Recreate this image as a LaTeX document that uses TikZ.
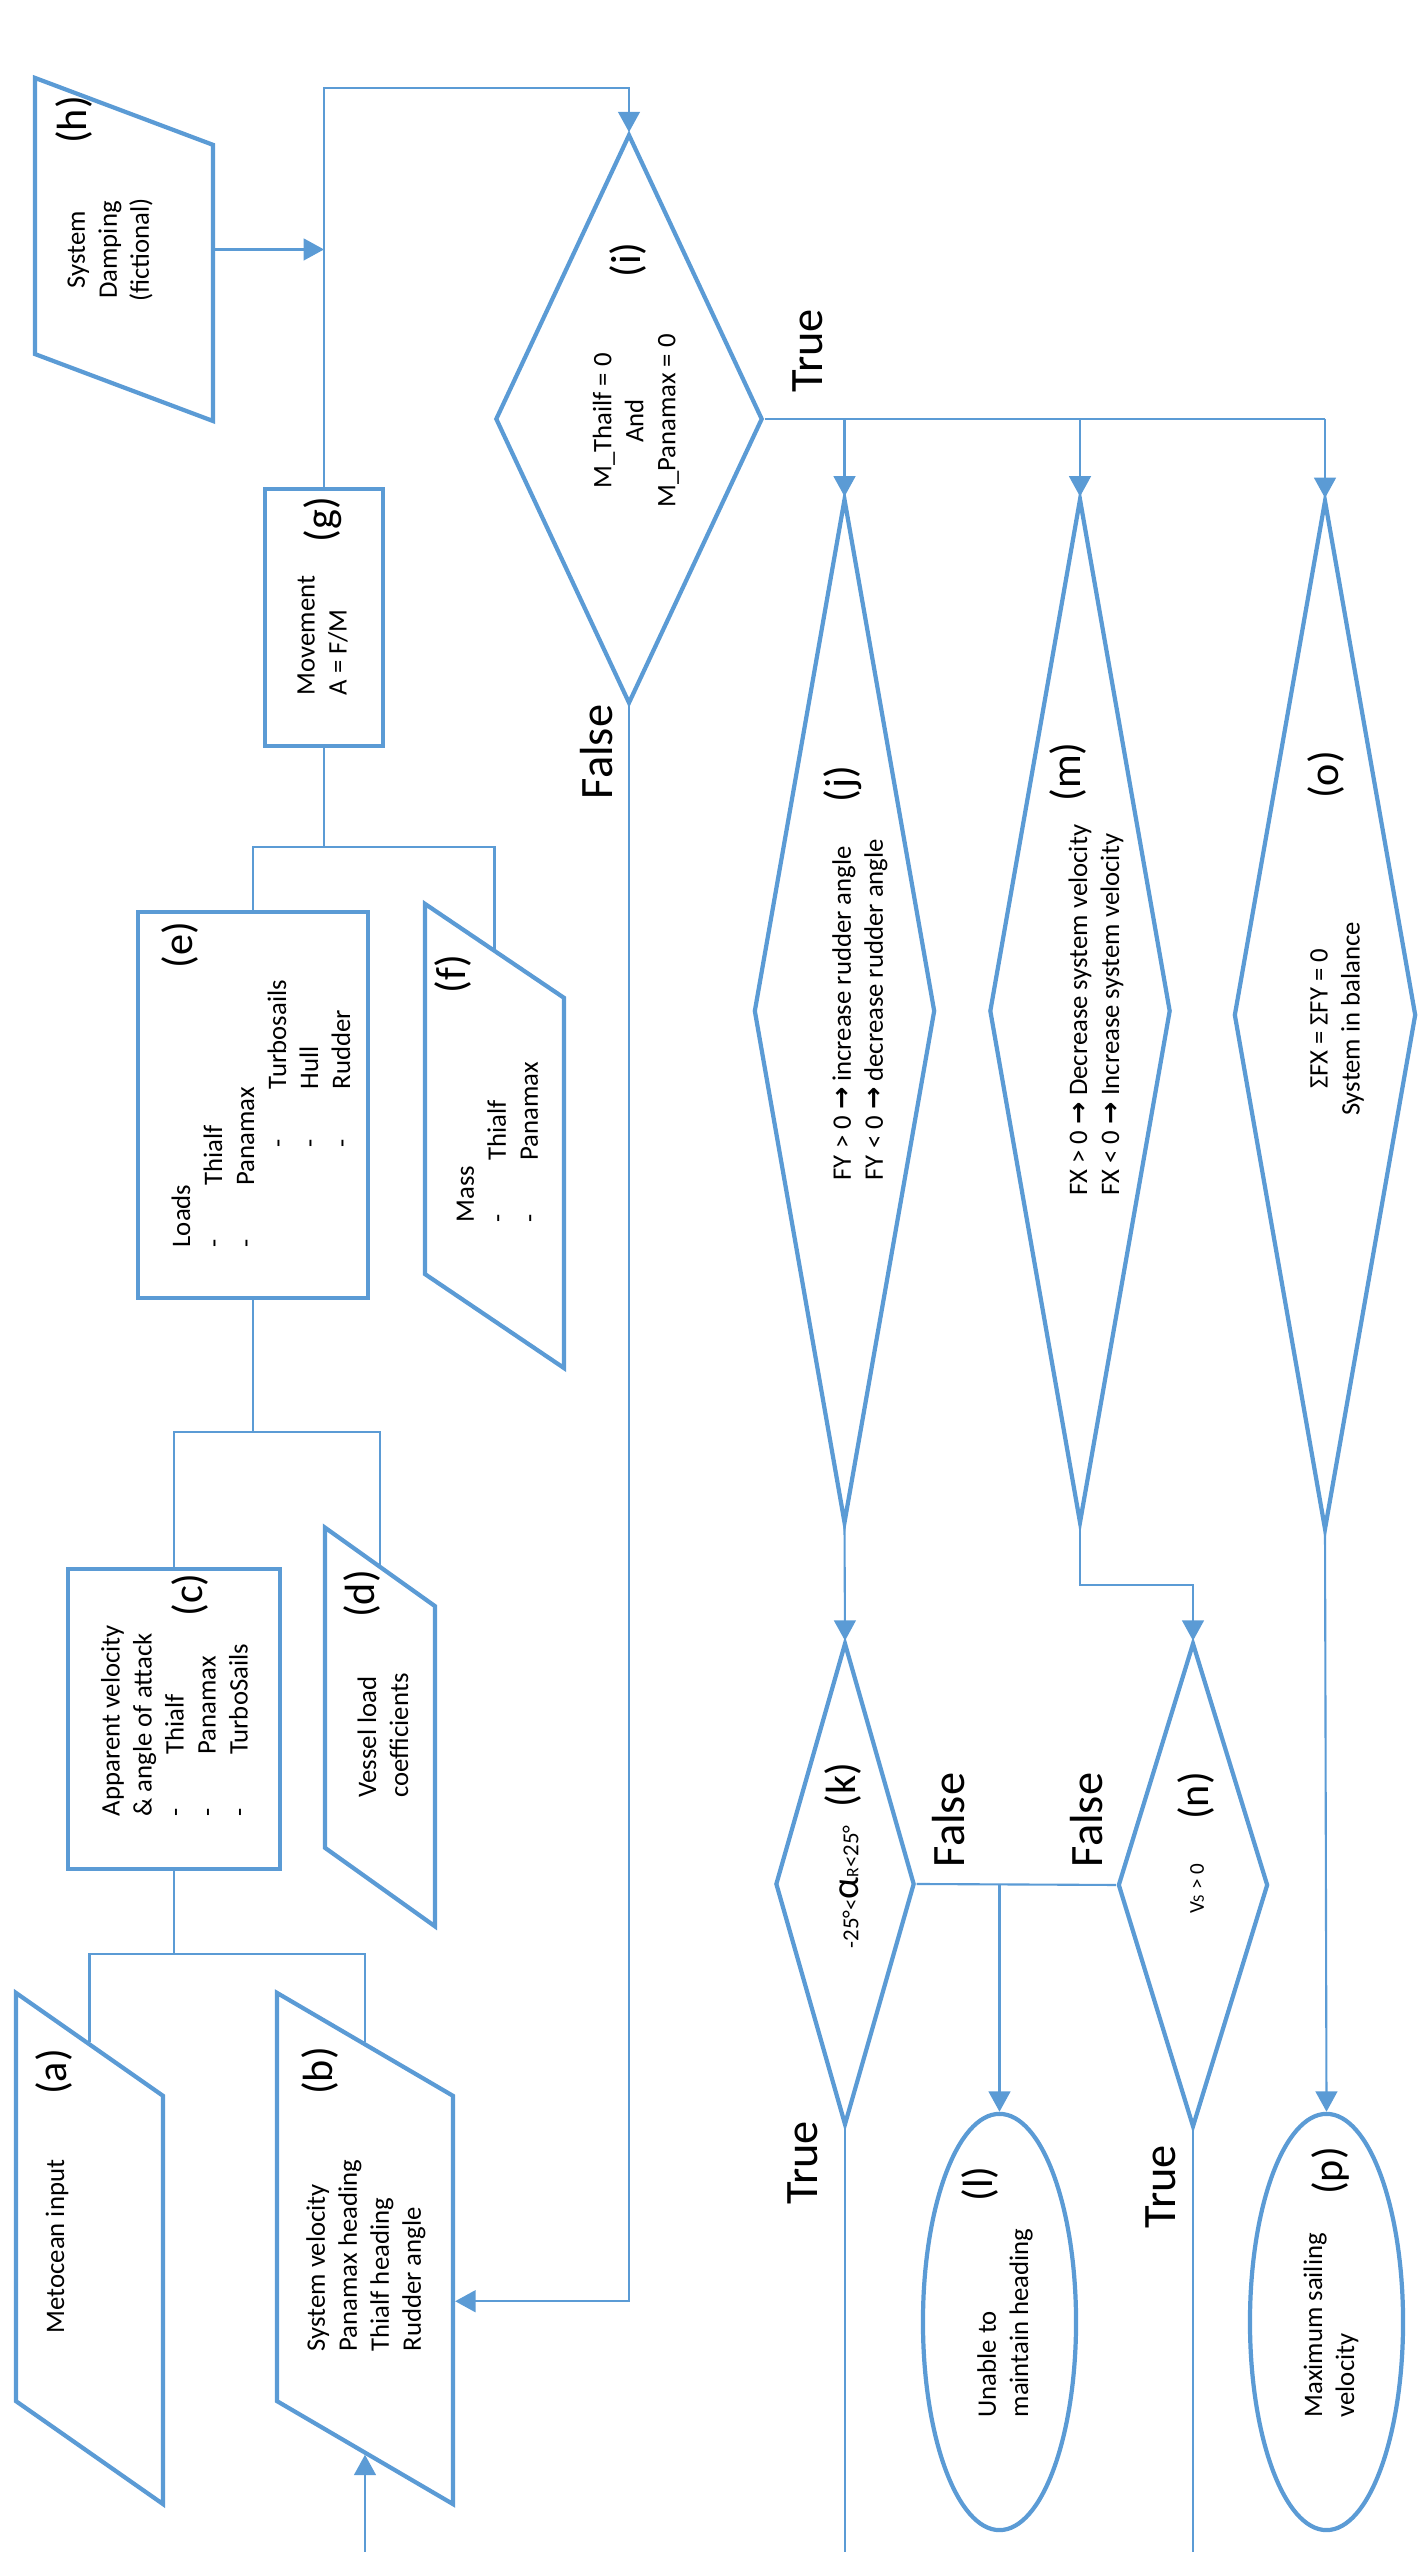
\documentclass[tikz,border=0pt]{standalone}
\usepackage{fontspec}
\setmainfont{Carlito}
\newfontfamily\arrowfont{DejaVu Sans}
\usepackage{xcolor}
\usetikzlibrary{shapes.geometric, arrows.meta}
\definecolor{flowblue}{RGB}{91,155,213}
\newcommand{\toarrow}{{\arrowfont\bfseries →}}
\newcommand{\dashitem}[1]{\makebox[17.5pt][l]{-}#1}
\newcommand{\subdash}[1]{\hspace*{28.5pt}\makebox[16.5pt][l]{-}#1}

\begin{document}
\begin{tikzpicture}[x=0.01cm, y=-0.01cm, rotate=90, transform shape]
\tikzstyle{shapeline}=[draw=flowblue, line width=1.2pt, inner sep=0pt]
\tikzstyle{box}=[shapeline, rectangle]
\tikzstyle{inout}=[shapeline, rectangle]
\tikzstyle{decision}=[shapeline, diamond]
\tikzstyle{terminal}=[shapeline, ellipse]
\tikzstyle{link}=[draw=flowblue, line width=0.6pt]
\tikzstyle{flowarrow}=[link, -{Triangle[length=5.8pt, width=6.2pt]}]
\tikzstyle{txt}=[inner sep=0pt, align=left, font=\fontsize{7.6}{9.1}\selectfont]
\tikzstyle{tag}=[inner sep=0pt, font=\fontsize{12}{12}\selectfont]
\tikzstyle{branch}=[inner sep=0pt, font=\fontsize{13.2}{14}\selectfont]

\useasboundingbox (0,0) rectangle (2552,1422);

% shapes
\node[inout, xslant=0.70, minimum width=4.08cm, minimum height=1.47cm] (a) at (303.5,89.5) {};
\node[inout, xslant=0.585, minimum width=4.08cm, minimum height=1.76cm] (b) at (303.5,365) {};
\node[box, minimum width=3cm, minimum height=2.12cm] (c) at (833,174) {};
\node[inout, xslant=0.714, minimum width=3.2cm, minimum height=1.1cm] (d) at (825,380) {};
\node[box, minimum width=3.86cm, minimum height=2.3cm] (e) at (1447,253) {};
\node[inout, xslant=0.676, minimum width=3.7cm, minimum height=1.39cm] (f) at (1416,494.5) {};
\node[box, minimum width=2.57cm, minimum height=1.18cm] (g) at (1934.5,324) {};
\node[inout, xslant=0.376, minimum width=2.76cm, minimum height=1.78cm] (h) at (2302.5,124) {};
\node[decision, minimum width=5.69cm, minimum height=2.67cm] (i) at (2133,629) {};
\node[decision, minimum width=10.24cm, minimum height=1.81cm] (j) at (1541,844.5) {};
\node[decision, minimum width=10.24cm, minimum height=1.81cm] (m) at (1541,1080) {};
\node[decision, minimum width=10.29cm, minimum height=1.82cm] (o) at (1537,1325) {};
\node[decision, minimum width=4.82cm, minimum height=1.39cm] (k) at (668,845) {};
\node[decision, minimum width=4.84cm, minimum height=1.5cm] (n) at (667,1193) {};
\node[terminal, minimum width=4.16cm, minimum height=1.53cm] (l) at (230,999.5) {};
\node[terminal, minimum width=4.16cm, minimum height=1.53cm] (p) at (230,1326.5) {};

% texts
\node[txt, anchor=west] (ta) at (218,57) {Metocean input};
\node[txt, anchor=west] (tb) at (200,366) {System velocity\\Panamax heading\\Thialf heading\\Rudder angle};
\node[txt, anchor=west] (tc) at (735,174.5) {Apparent velocity\\\& angle of attack\\\dashitem{Thialf}\\\dashitem{Panamax}\\\dashitem{TurboSails}};
\node[txt, anchor=west] (td) at (754,383) {Vessel load\\coefficients};
\node[txt, anchor=west] (te) at (1304,261) {Loads\\\dashitem{Thialf}\\\dashitem{Panamax}\\\subdash{Turbosails}\\\subdash{Hull}\\\subdash{Rudder}};
\node[txt, anchor=west] (tf) at (1329,497.5) {Mass\\\dashitem{Thialf}\\\dashitem{Panamax}};
\node[txt, anchor=west] (tg) at (1856,322.5) {Movement\\A = F/M};
\node[txt, align=center] (th) at (2302,110) {System\\Damping\\(fictional)};
\node[txt, align=center] (ti) at (2131,636) {M\_Thailf = 0\\And\\M\_Panamax = 0};
\node[txt, anchor=west] (tj) at (1371,860) {FY > 0 \toarrow{} increase rudder angle\\FY < 0 \toarrow{} decrease rudder angle};
\node[txt, anchor=west] (tm) at (1356,1096) {FX > 0 \toarrow{} Decrease system velocity\\FX < 0 \toarrow{} Increase system velocity};
\node[txt, align=center] (to) at (1533,1337) {ΣFX = ΣFY = 0\\System in balance};
\node[txt, font=\fontsize{6.5}{7}\selectfont] (tk) at (665,849) {-25°<{\fontsize{11}{11}\selectfont α}{\fontsize{5}{5}\selectfont R}<25°};
\node[txt, font=\fontsize{6}{7}\selectfont] (tn) at (663,1197) {V{\fontsize{4.5}{5}\selectfont S} > 0};
\node[txt, anchor=west] (tl) at (134,1005) {Unable to\\maintain heading};
\node[txt, anchor=west] (tp) at (134,1331) {Maximum sailing\\velocity};

% letters
\node[tag] (la) at (480,54) {(a)};
\node[tag] (lb) at (481,320) {(b)};
\node[tag] (lc) at (957,190) {(c)};
\node[tag] (ld) at (958,362) {(d)};
\node[tag] (le) at (1607,180) {(e)};
\node[tag] (lf) at (1578,453) {(f)};
\node[tag] (lg) at (2032,323) {(g)};
\node[tag] (lh) at (2432,74) {(h)};
\node[tag] (li) at (2292,628) {(i)};
\node[tag] (lj) at (1768,843) {(j)};
\node[tag] (lm) at (1780,1068) {(m)};
\node[tag] (lo) at (1777,1326) {(o)};
\node[tag] (lk) at (767,843) {(k)};
\node[tag] (ln) at (756,1196) {(n)};
\node[tag] (ll) at (368,980) {(l)};
\node[tag] (lp) at (381,1330) {(p)};

% branch labels
\node[branch] (itrue) at (2201,808) {True};
\node[branch] (ifalse) at (1800,597) {False};
\node[branch] (kfalse) at (732,949) {False};
\node[branch] (nfalse) at (732,1087) {False};
\node[branch] (ktrue) at (389,803) {True};
\node[branch] (ntrue) at (365,1161) {True};

% joints
\coordinate (jab) at (598,174);
\coordinate (jcd) at (1120,253);
\coordinate (jef) at (1705,324);
\coordinate (gi) at (2464,324);
\coordinate (mn) at (967,1080);
\coordinate (bin) at (0,365);
\coordinate (kout) at (0,845);
\coordinate (nout) at (0,1193);

% connectors
\draw[link] (a.east) -| (jab) |- (b.east);
\draw[link] (c.west) -- (jab);
\draw[link] (c.east) -| (jcd) |- (d.east);
\draw[link] (e.west) -- (jcd);
\draw[link] (e.east) -| (jef) |- (f.east);
\draw[link] (g.west) -- (jef);
\draw[flowarrow] (g.east) -- (gi) |- (i.east);
\draw[flowarrow] (h.south -| h.center) -- (h.center |- gi);
\draw[flowarrow] (i.west) -| (b.south);
\draw[link] (i.south) -- (i.south |- o.east);
\foreach \q in {j,m,o}
  \draw[flowarrow] (i.south |- \q.east) -- (\q.east);
\draw[flowarrow] (j.west) -- (k.east);
\draw[flowarrow] (m.west) -- (mn) |- (n.east);
\draw[flowarrow] (o.west) -- (p.east);
\draw[link] (k.south) -- (n.north);
\draw[flowarrow] (k.south |- l.east) -- (l.east);
\draw[link] (k.west) -- (kout);
\draw[link] (n.west) -- (nout);
\draw[flowarrow] (bin) -- (b.west);
\end{tikzpicture}
\end{document}
